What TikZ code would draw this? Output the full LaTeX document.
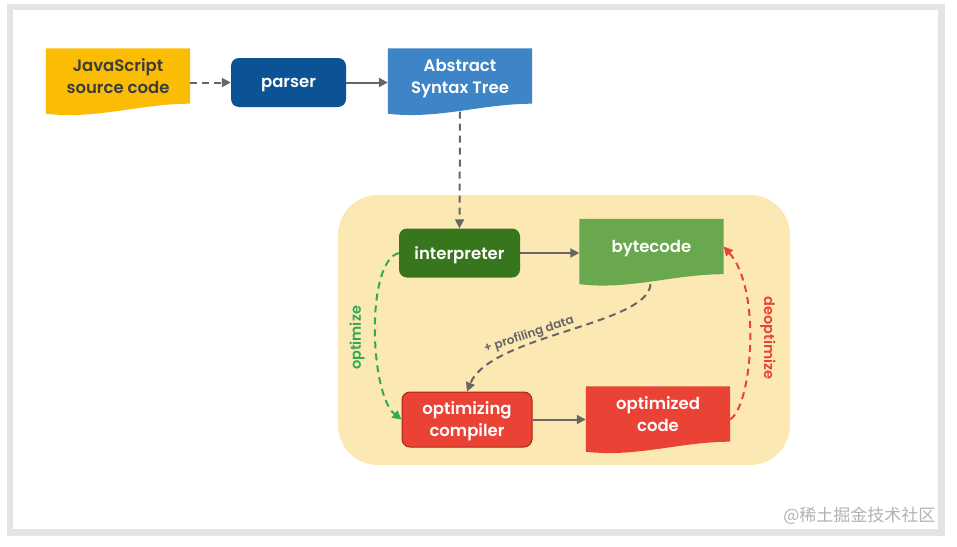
\documentclass[tikz,border=0pt]{standalone}
\usepackage{fontspec}
\setmainfont{Poppins}[BoldFont={Poppins SemiBold}]
\newfontfamily\cjk{Noto Sans CJK SC}
\usetikzlibrary{arrows.meta,calc,backgrounds}
\definecolor{jsyellow}{HTML}{FBBC04}
\definecolor{txtdark}{HTML}{3C3C3C}
\definecolor{parserblue}{HTML}{0B5394}
\definecolor{astblue}{HTML}{3D85C6}
\definecolor{bgyellow}{HTML}{FCE8B2}
\definecolor{interpgreen}{HTML}{38761D}
\definecolor{bcgreen}{HTML}{6AA84F}
\definecolor{optred}{HTML}{EA4335}
\definecolor{optborder}{HTML}{A52714}
\definecolor{arrowgray}{HTML}{666666}
\definecolor{optgreen}{HTML}{34A853}
\definecolor{framegray}{HTML}{E4E4E4}
\newcommand\docfill[2]{%
  \fill[#2] (#1.north west) -- (#1.north east) -- (#1.south east)
    .. controls ($(#1.south east)+(-50,0)$) and ($(#1.south west)+(50,16)$)
    .. ($(#1.south west)+(0,10)$) -- cycle;}
\begin{document}
\begin{tikzpicture}[x=1pt,y=-1pt,
  lbl/.style={font=\fontsize{16.5}{22}\selectfont\bfseries, align=center, text=white, text depth=0pt},
  docbox/.style={lbl, rectangle, inner sep=0pt, minimum width=144pt, minimum height=55pt},
  procbox/.style={lbl, rectangle, rounded corners=8pt, inner sep=0pt, minimum height=49pt},
  conn/.style={draw=arrowgray, line width=2pt, -{Triangle[length=9pt,width=9pt]}},
  dashline/.style={dash pattern=on 7pt off 5pt},
  edgelbl/.style={font=\fontsize{14.5}{17}\selectfont\bfseries}
  ]
\useasboundingbox (0,0) rectangle (957,546);
\draw[framegray, line width=6.5pt] (10,7) rectangle (941.5,532.5);

% document-shaped nodes
\node[docbox, text=txtdark] (js) at (118,76) {JavaScript\\source code};
\node[docbox] (ast) at (460,76) {Abstract\\Syntax Tree};
\node[docbox] (bc) at (651.5,246.5) {bytecode};
\node[docbox] (oc) at (658,414) {optimized\\code};
\begin{scope}[on background layer]
\fill[bgyellow, rounded corners=40pt] (338,195) rectangle (790,465);
\docfill{js}{jsyellow}
\docfill{ast}{astblue}
\docfill{bc}{bcgreen}
\docfill{oc}{optred}
\end{scope}

% process nodes
\node[procbox, fill=parserblue, minimum width=115pt] (parser) at (288.5,82.5) {parser};
\node[procbox, fill=interpgreen, minimum width=121pt] (interp) at (459.5,253) {interpreter};
\node[procbox, fill=optred, draw=optborder, line width=1pt, minimum width=130pt, minimum height=55pt] (optc) at (467,419.5) {optimizing\\compiler};

% connectors
\draw[conn, dashline] (js.east |- parser.west) -- (parser.west);
\draw[conn] (parser.east) -- (parser.east -| ast.west);
\coordinate (astb) at ($(ast.south)+(0,8)$);
\draw[conn, dashline] (astb) -- (interp.north);
\draw[conn] (interp.east) -- (interp.east -| bc.west);
\draw[conn] (optc.east) -- (optc.east -| oc.west);

\coordinate (bcb) at ($(bc.south)+(-1,10)$);
\draw[conn, dashline] (bcb) .. controls (648,325) and (490,335) .. (optc.north);
\node[font=\fontsize{12}{14}\selectfont\bfseries, text=arrowgray, rotate=18] (prof) at (529,335) {+ profiling data};

\draw[conn, dashline, draw=optgreen, -{Triangle[length=9pt,width=9pt,fill=optgreen]}]
  (interp.west) .. controls (365,262) and (370,395) .. (optc.west);
\node[edgelbl, text=optgreen, rotate=90] (optl) at (357,338) {optimize};

\draw[conn, dashline, draw=optred, -{Triangle[length=9pt,width=9pt,fill=optred]}]
  (oc.east |- optc.east) .. controls (752,405) and (762,290) .. (bc.east);
\node[edgelbl, text=optred, rotate=-90] (deopt) at (768,338) {deoptimize};

\node[font=\cjk\fontsize{17}{19}\selectfont, text=black!30, anchor=east] (wm) at (939,516) {@稀土掘金技术社区};
\end{tikzpicture}
\end{document}
